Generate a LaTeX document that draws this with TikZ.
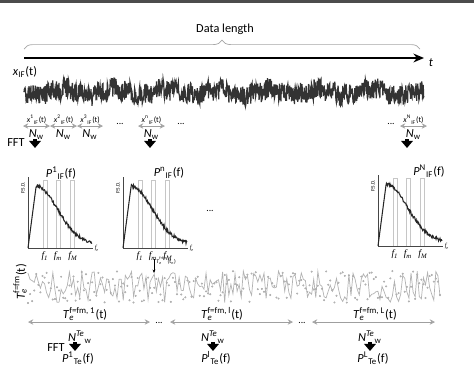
\documentclass[tikz,border=0pt]{standalone}
\usepackage{fontspec}
\setmainfont{Carlito}
\newfontfamily\serifit{Liberation Serif}
\usetikzlibrary{arrows.meta, decorations.pathreplacing, positioning}

\newcommand{\tesig}[1]{\textit{T}\rlap{\textsubscript{\textit{e}}}\textsuperscript{#1}}

\begin{document}
\begin{tikzpicture}[x=0.02cm, y=-0.02cm,
    lbl/.style={inner sep=0pt, font=\fontsize{7}{8}\selectfont},
    sml/.style={inner sep=0pt, font=\fontsize{4.5}{5}\selectfont},
    dts/.style={inner sep=0pt, font=\fontsize{5.5}{6}\selectfont},
    seg/.style={draw=gray!75, line width=0.4pt, {Stealth[open,length=3pt,width=3pt]}-{Stealth[open,length=3pt,width=3pt]}},
    fft/.style={-{Triangle[length=4pt,width=6.5pt]}, line width=2.2pt},
    bar/.style={draw=gray!45, line width=0.35pt},
    flab/.style={inner sep=0pt, font=\fontsize{5.5}{6}\selectfont\serifit\itshape}]
  \useasboundingbox (0,0) rectangle (474,366);
  \pgfmathsetseed{11}

  % top frame line
  \fill[gray!60!black] (0,0) rectangle (474,2.5);

  % data length and time axis
  \node[lbl] (dlen) at (225,29) {Data length};
  \coordinate (br0) at (24,49);
  \coordinate (br1) at (420,49);
  \draw[gray!70, line width=0.4pt, decorate, decoration={brace, amplitude=5pt}] (br0) -- (br1);
  \coordinate (ta) at (24,58);
  \coordinate (tb) at (424,58);
  \draw[line width=1.5pt, -{Stealth[length=6pt,width=5pt]}] (ta) -- (tb);
  \node[lbl, font=\fontsize{7}{8}\selectfont\itshape] (tlab) at (431,63) {t};

  % IF signal
  \node[lbl] (xif) at (25,72) {\textit{x}\textsubscript{IF}(t)};
  \draw[gray!40!black, line width=0.7pt] plot[domain=24:424, samples=1100]
    (\x, {92 - 3*sin(\x*7) - 2*sin(\x*23) + 10*rand});

  % windows
  \foreach \n/\xx in {a0/23, a1/50, a2/77, a3/103, a4/138, a5/165, a6/400, a7/427}
    \coordinate (\n) at (\xx,126);
  \foreach \s/\e/\k in {a0/a1/1, a1/a2/2, a2/a3/3, a4/a5/n, a6/a7/N} {
    \draw[seg] (\s) -- (\e)
      node[midway, above=0.8pt, sml] (x\k) {\textit{x}\textsuperscript{\k}\textsubscript{IF}(t)}
      node[midway, below=2pt, lbl] (nw\k) {\textit{N}\textsubscript{w}};
  }
  \node[dts] (dt1) at (120,124) {...};
  \node[dts] (dt2) at (181,124) {...};
  \node[dts] (dt3) at (391,124) {...};

  % FFT of the windows
  \node[lbl] (fft0) at (16,143) {FFT};
  \foreach \k/\xx in {1/35, n/150, N/407} {
    \coordinate (fu\k) at (\xx,139);
    \coordinate (fd\k) at (\xx,148);
    \draw[fft] (fu\k) -- (fd\k);
  }

  % power spectral densities
  \foreach \ox/\oy/\tx/\k in {28/248/33/1, 123/248/46/n, 378/246/51/N} {
    \begin{scope}[shift={(\ox,\oy)}]
      \foreach \bx in {15, 28, 42}
        \draw[bar] (\bx,0) rectangle (\bx+4,-68);
      \draw[gray!55!black, line width=0.4pt] (0,-71) -- (0,0) -- (65,0);
      \draw[gray!30!black, line width=0.6pt] plot[domain=0:64, samples=130]
        (\x, {-(ifthenelse(\x<8, 7.6*\x, 4+58*exp(-((\x-8)/30)^2)+1.6*rand))});
      \node[lbl] (psd\k) at (\tx,-75) {\textit{P}\textsuperscript{\k}\textsubscript{IF}(f)};
      \node[inner sep=0pt, rotate=90, font=\fontsize{3}{3}\selectfont] (ax\k) at (-5,-60) {P.S.D.};
      \node[flab, font=\fontsize{3.5}{4}\selectfont\serifit\itshape] (fe\k) at (69,0) {f\textsubscript{e}};
      \node[flab] (f1\k) at (17,8) {f\textsubscript{1}};
      \node[flab] (fm\k) at (30,8) {f\textsubscript{m}};
      \node[flab] (fM\k) at (45,8) {f\textsubscript{M}};
    \end{scope}
  }
  \node[dts] (dt4) at (210,211) {...};

  % temperature signal at f = fm
  \node[lbl, rotate=90] (telab) at (20,282) {\tesig{f=fm}(t)};
  \draw[gray!60, line width=0.4pt, mark=*, mark size=0.35pt,
        mark options={draw=none, fill=gray!30!black}]
    plot[domain=28:440, samples=200] (\x, {287 + 16*rand});
  \coordinate (tn0) at (154,259);
  \coordinate (tn1) at (154,273);
  \draw[line width=0.3pt, -{Stealth[length=2pt,width=1.6pt]}] (tn0) -- (tn1);
  \node[inner sep=0pt, font=\fontsize{3.2}{3.5}\selectfont, anchor=west] (tnlab) at (156,261) {\tesig{f=fm}(t\textsubscript{n})};

  % windows of the temperature signal
  \foreach \n/\xx in {b0/28, b1/150, b2/170, b3/293, b4/312, b5/435}
    \coordinate (\n) at (\xx,322);
  \draw[seg] (b0) -- (b1);
  \draw[seg] (b2) -- (b3);
  \draw[seg] (b4) -- (b5);
  \node[dts] (dt5) at (159,323) {...};
  \node[dts] (dt6) at (302,323) {...};
  \foreach \k/\tx/\nx/\ax in {1/85/80/75, l/222/213/213, L/375/370/370} {
    \node[lbl] (tew\k) at (\tx,314) {\tesig{f=fm, \k}(t)};
    \node[lbl] (nte\k) at (\nx,337) {\textit{N}\textsuperscript{\textit{Te}}\textsubscript{w}};
    \coordinate (gu\k) at (\ax,342);
    \coordinate (gd\k) at (\ax,351);
    \draw[fft] (gu\k) -- (gd\k);
    \node[lbl] (pte\k) at (\ax+3,358) {\textit{P}\textsuperscript{\k}\textsubscript{Te}(f)};
  }
  \node[lbl] (fft1) at (56,348) {FFT};
\end{tikzpicture}
\end{document}
